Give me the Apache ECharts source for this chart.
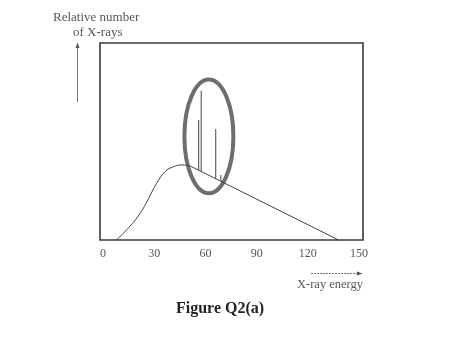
<!DOCTYPE html>
<html><head><meta charset="utf-8">
<script src="https://cdn.jsdelivr.net/npm/echarts@6/dist/echarts.min.js"></script>
<style>html,body{margin:0;padding:0;background:#fff}#c{width:459px;height:347px}</style>
</head><body><div id="c"></div>
<script>
// X-ray energy tick labels
var tickLabels = [0, 30, 60, 90, 120, 150];
// Bremsstrahlung continuum: rising part (smooth)
var riseX = [7.6, 11.9, 21.7, 31.4, 36.3, 41.2, 46.1, 51];
var riseY = [0, 3.4, 13.5, 28.8, 34.7, 37.2, 38.1, 37.6];
// falling part (straight)
var fallX = [51, 138];
var fallY = [37.6, 0];
// characteristic lines
var spikeX = [56, 57.5, 66, 69];
var spikeBase = [35.4, 34.8, 31.1, 29.8];
var spikeTop = [60.9, 75.8, 56.3, 33];
// highlight ellipse: centre x, centre y, radius x, radius y (data units)
var ellipseData = [[62, 52.6, 14.35, 28.9]];

var serif = '"Liberation Serif", "DejaVu Serif", serif';
var chart = echarts.init(document.getElementById('c'), null, {renderer: 'canvas'});
function zip(a, b) { return a.map(function (v, i) { return [v, b[i]]; }); }

chart.setOption({
  animation: false,
  backgroundColor: '#fff',
  grid: {left: 100, top: 43, width: 263, height: 197, show: true, borderColor: '#3a3a3a', borderWidth: 1.6, backgroundColor: 'transparent'},
  xAxis: {
    type: 'value', min: -1.8, max: 152.3,
    axisLine: {show: false}, axisTick: {show: false}, splitLine: {show: false},
    axisLabel: {customValues: tickLabels, color: '#555', fontFamily: serif, fontSize: 12, margin: 8}
  },
  yAxis: {type: 'value', min: 0, max: 100, show: false},
  title: [
    {text: 'Relative number', left: 53, top: 11, padding: 0, textStyle: {fontFamily: serif, fontSize: 13, fontWeight: 'normal', color: '#555'}},
    {text: 'of X-rays', left: 73, top: 26, padding: 0, textStyle: {fontFamily: serif, fontSize: 13, fontWeight: 'normal', color: '#555'}},
    {text: 'X-ray energy', left: 297, top: 278, padding: 0, textStyle: {fontFamily: serif, fontSize: 12.5, fontWeight: 'normal', color: '#555'}},
    {text: 'Figure Q2(a)', left: 176, top: 301, padding: 0, textStyle: {fontFamily: serif, fontSize: 16, fontWeight: 'bold', color: '#222'}}
  ],
  graphic: [
    {type: 'line', shape: {x1: 77.5, y1: 102, x2: 77.5, y2: 46}, style: {stroke: '#777', lineWidth: 1}},
    {type: 'polygon', shape: {points: [[75.5, 48], [77.5, 42.5], [79.5, 48]]}, style: {fill: '#555'}},
    {type: 'line', shape: {x1: 311, y1: 273.5, x2: 358, y2: 273.5}, style: {stroke: '#777', lineWidth: 1, lineDash: [2, 1]}},
    {type: 'polygon', shape: {points: [[357, 271.5], [362.5, 273.5], [357, 275.5]]}, style: {fill: '#555'}}
  ],
  series: [
    {type: 'line', data: zip(riseX, riseY), smooth: 0.4, showSymbol: false, lineStyle: {color: '#444', width: 1}},
    {type: 'line', data: zip(fallX, fallY), showSymbol: false, lineStyle: {color: '#444', width: 1}},
    {
      type: 'custom',
      data: spikeX.map(function (x, i) { return [x, spikeBase[i], spikeTop[i]]; }),
      renderItem: function (params, api) {
        var p1 = api.coord([api.value(0), api.value(1)]);
        var p2 = api.coord([api.value(0), api.value(2)]);
        return {type: 'line', shape: {x1: p1[0], y1: p1[1], x2: p2[0], y2: p2[1]}, style: {stroke: '#555', lineWidth: 1.1}};
      }
    },
    {
      type: 'custom',
      data: ellipseData,
      renderItem: function (params, api) {
        var c = api.coord([api.value(0), api.value(1)]);
        var s = api.size([api.value(2), api.value(3)]);
        return {type: 'ellipse', shape: {cx: c[0], cy: c[1], rx: s[0], ry: s[1]}, style: {fill: 'none', stroke: '#6e6e6e', lineWidth: 4}};
      }
    }
  ]
});
</script></body></html>
